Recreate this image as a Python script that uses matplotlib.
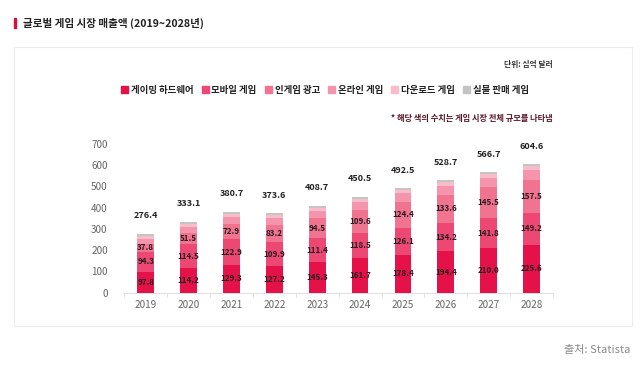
import matplotlib
matplotlib.use('Agg')
from matplotlib import pyplot as plt
from matplotlib.patches import Rectangle, Patch
import numpy as np

plt.rcParams['font.family'] = ['Noto Sans CJK KR', 'DejaVu Sans']

years = ['2019', '2020', '2021', '2022', '2023', '2024', '2025', '2026', '2027', '2028']
hardware = [97.8, 114.2, 129.3, 127.2, 145.3, 161.7, 178.4, 194.4, 210.0, 225.6]
mobile = [94.3, 114.5, 122.9, 109.9, 111.4, 118.5, 126.1, 134.2, 141.8, 149.2]
ads = [37.8, 51.5, 72.9, 83.2, 94.5, 109.6, 124.4, 133.6, 145.5, 157.5]
# not labelled in the chart
online = [24.5, 28.9, 31.1, 29.8, 33.0, 35.7, 38.1, 40.5, 42.4, 45.3]
download = [13.0, 14.5, 15.5, 15.0, 16.5, 17.5, 18.0, 19.0, 20.0, 20.5]
physical = [9.0, 9.5, 9.0, 8.5, 8.0, 7.5, 7.5, 7.0, 7.0, 6.5]
totals = [276.4, 333.1, 380.7, 373.6, 408.7, 450.5, 492.5, 528.7, 566.7, 604.6]

names = ['게이밍 하드웨어', '모바일 게임', '인게임 광고', '온라인 게임', '다운로드 게임', '실물 판매 게임']
colors = ['#e5124a', '#ec4873', '#f07390', '#f495ad', '#f8bccb', '#c4c4c4']
series = [hardware, mobile, ads, online, download, physical]
labelled = [True, True, True, False, False, False]

fig = plt.figure(figsize=(6.4, 3.65), dpi=100)
W, H = 640, 365

# outer box
fig.patches.append(Rectangle((14 / W, 1 - 326 / H), 618 / W, 279 / H,
                             transform=fig.transFigure, fill=False,
                             edgecolor='#ececec', lw=0.8))
# title with red marker
fig.patches.append(Rectangle((13.5 / W, 1 - 28 / H), 2 / W, 10 / H,
                             transform=fig.transFigure, color='#d6113f'))
fig.text(23 / W, 1 - 23 / H, '글로벌 게임 시장 매출액 (2019~2028년)', fontsize=7.6,
         fontweight='bold', color='#222222', va='center', ha='left')

fig.text(553 / W, 1 - 65 / H, '단위: 십억 달러', fontsize=5.6, fontweight='bold',
         color='#333333', ha='right', va='center')
fig.text(553 / W, 1 - 119 / H, '* 해당 색의 수치는 게임 시장 전체 규모를 나타냄', fontsize=5.9,
         fontweight='bold', color='#5a1526', ha='right', va='center')
fig.text(630 / W, 1 - 350 / H, '출처: Statista', fontsize=8, color='#8a8a8a',
         ha='right', va='center')

ax = fig.add_axes([123 / W, 1 - 292.7 / H, 430 / W, 148.7 / H])
x = np.arange(len(years))
bottom = np.zeros(len(years))
for vals, c, lab in zip(series, colors, labelled):
    vals = np.array(vals)
    ax.bar(x, vals, 0.39, bottom=bottom, color=c, linewidth=0)
    if lab:
        for xi, b, v in zip(x, bottom, vals):
            ax.text(xi, b + v / 2, f'{v:.1f}', ha='center', va='center',
                    fontsize=5.8, fontweight='bold', color='#2b1a1e')
    bottom += vals

for xi, t in zip(x, totals):
    ax.annotate(f'{t:.1f}', (xi, t), xytext=(0, 13), textcoords='offset points',
                ha='center', va='center', fontsize=6.5, fontweight='bold',
                color='#222222', annotation_clip=False)

ax.set_xlim(-0.53, 9.47)
ax.set_ylim(0, 700)
ax.set_yticks(range(0, 701, 100))
ax.set_xticks(x)
ax.set_xticklabels(years)
ax.set_xticks(np.arange(-0.5, 10, 1), minor=True)
ax.tick_params(axis='y', length=0, labelsize=7.2, labelcolor='#666666', pad=11)
ax.tick_params(axis='x', which='major', length=0, labelsize=7.2, labelcolor='#666666', pad=5)
ax.tick_params(axis='x', which='minor', length=3, color='#dddddd', width=0.6)
for s in ['top', 'right', 'left']:
    ax.spines[s].set_visible(False)
ax.spines['bottom'].set_color('#dddddd')
ax.spines['bottom'].set_linewidth(0.7)

handles = [Patch(color=c, label=n) for c, n in zip(colors, names)]
leg = fig.legend(handles=handles, loc='center', bbox_to_anchor=(325 / W, 1 - 90 / H),
                 ncol=6, frameon=False, fontsize=6.8, handlelength=0.75, handleheight=0.75,
                 handletextpad=0.3, columnspacing=0.85)
for t in leg.get_texts():
    t.set_fontweight('bold')
    t.set_color('#222222')

fig.savefig('out.png', dpi=100)
